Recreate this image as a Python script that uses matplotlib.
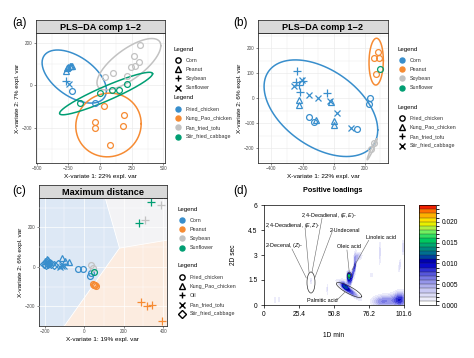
import numpy as np
import matplotlib
matplotlib.use("Agg")
import matplotlib.pyplot as plt
from matplotlib.lines import Line2D
from matplotlib.patches import Ellipse
from matplotlib.colors import ListedColormap, BoundaryNorm

plt.rcParams['font.family'] = ['Liberation Sans', 'DejaVu Sans']
plt.rcParams['mathtext.fontset'] = 'custom'
plt.rcParams['mathtext.rm'] = 'Liberation Sans'
plt.rcParams['mathtext.it'] = 'Liberation Sans:italic'

W, H = 474, 358
BLUE, ORANGE, GRAY, GREEN = '#388ECC', '#F68B33', '#C2C2C2', '#009E73'

# ---------------- panel (a): colour = dish, shape = oil ----------------
a_x = [-269, -258, -250, -238, -225, -217, -269, -243, -224, -40,
       -36, -36, 28, 188, 183, 77,
       317, 271, 304, 248, 279, 214, 106, 41,
       -155, 93, 150, 214, 0]
a_y = [66, 80, 89, 92, 92, 90, 22, 6, -28, -82,
       -172, -200, -98, -140, -189, -282,
       190, 139, 109, 89, 92, 45, 58, 39,
       -82, -20, -20, 6, -36]
a_dish = ['Fried_chicken'] * 10 + ['Kung_Pao_chicken'] * 6 + ['Pan_fried_tofu'] * 8 + ['Stir_fried_cabbage'] * 5
a_oil = ['Peanut'] * 6 + ['Soybean', 'Sunflower', 'Corn', 'Corn'] + ['Corn'] * 19
# ellipses: centre x, centre y, x half-extent, y half-extent, correlation
a_ell_dish = ['Fried_chicken', 'Kung_Pao_chicken', 'Pan_fried_tofu', 'Stir_fried_cabbage']
a_ell_cx = [-203, 67, 228, 48]
a_ell_cy = [42, -186, 100, -38]
a_ell_rx = [254, 258, 252, 367]
a_ell_ry = [125, 150, 121, 100]
a_ell_c = [-0.52, 0.04, 0.72, 0.93]

# ---------------- panel (b): colour = oil, shape = dish ----------------
b_x = [-236, -240, -225, -215, -43, -197,
       -253, -161, -103, -204, 21, 113, -26,
       -225, -225, -112, 0, 0, -17,
       -157, -125, 235, 225, 150,
       283, 257, 289, 274, 296, 257, 240]
b_y = [110, 67, 54, 27, 20, 70,
       51, 14, 0, 74, -60, -120, -13,
       -6, -29, -87, -91, -107, -16,
       -76, -94, 0, -24, -123,
       185, 161, 161, 96, 118, -181, -203]
b_oil = ['Corn'] * 24 + ['Peanut'] * 4 + ['Sunflower'] + ['Soybean'] * 2
b_dish = (['Pan_fried_tofu'] * 6 + ['Stir_fried_cabbage'] * 7 + ['Kung_Pao_chicken'] * 6
          + ['Fried_chicken'] * 5 + ['Fried_chicken'] * 7)
b_ell_oil = ['Corn', 'Peanut', 'Soybean']
b_ell_cx = [-82, 273, 247]
b_ell_cy = [-40, 147, -205]
b_ell_rx = [365, 46, 32]
b_ell_ry = [194, 94, 42]
b_ell_c = [-0.45, 0.05, 0.97]

# ---------------- panel (c): maximum distance ----------------
c_x = [-199, -190, -180, -170, -112, -95, -78, -185,
       -205, -195, -185, -165, -150, -130,
       -120, -110, -100,
       -31, -6, 31, 36,
       36, 45, 50,
       45, 50, 55, 60, 48,
       340, 276, 390, 306, 286, 318, 345, 394]
c_y = [30, 40, 35, 25, 46, 30, 24, 20,
       15, 10, 12, 15, 10, 12,
       0, 2, 5,
       -9, -9, -46, -33,
       9, -6, -26,
       -86, -90, -93, -95, -92,
       329, 221, 313, 237, -178, -199, -195, -275]
c_oil = (['Corn'] * 21 + ['Soybean', 'Soybean', 'Sunflower'] + ['Peanut'] * 5
         + ['Sunflower', 'Sunflower', 'Soybean', 'Soybean'] + ['Peanut'] * 4)
c_dish = (['Kung_Pao_chicken'] * 8 + ['Stir_fried_cabbage'] * 6 + ['Pan_fried_tofu'] * 3
          + ['Fried_chicken'] * 4 + ['Fried_chicken'] * 3 + ['Fried_chicken'] * 5 + ['Oil'] * 8)
# region boundaries (top, junction, bottom, right)
c_bound_x = [104, 179, -107, 424]
c_bound_y = [359, 95, -310, 136]

# ---------------- panel (d): loading peaks ----------------
pk_x = [61.5, 61.5, 62, 64.8, 68, 58, 84, 78, 98.5, 101, 92, 99, 84, 34, 8, 11, 46, 66]
pk_y = [0.9, 1.75, 1.5, 2.0, 2.9, 1.2, 3.1, 1.8, 2.35, 3.45, 0.25, 0.35, 0.2, 1.45, 0.3, 0.35, 0.95, 2.5]
pk_h = [0.0085, 0.0125, 0.007, 0.006, 0.0035, 0.005, 0.0025, 0.0018, 0.003, 0.003,
        0.005, 0.0065, 0.0035, 0.0022, 0.0018, 0.0018, 0.0022, 0.004]
pk_sx = [4.5, 0.8, 1.5, 1.6, 2.0, 1.5, 0.4, 1.0, 0.5, 0.5, 6.0, 3.0, 4.0, 0.3, 0.3, 0.3, 0.25, 0.5]
pk_sy = [0.3, 0.15, 0.3, 0.5, 0.15, 0.2, 0.5, 0.1, 0.25, 0.3, 0.25, 0.3, 0.2, 0.12, 0.12, 0.12, 0.25, 0.5]
pk_rho = [-0.92, 0.0, 0.6, 0.95, 0.3, -0.5, 0.3, 0.0, 0.7, 0.0, 0.0, 0.0, 0.0, 0.0, 0.0, 0.0, 0.0, 0.6]
cb_colors = ['#ffffff', '#ececfa', '#dcdcf7', '#c8c8f3', '#b0b0ee', '#9696ea', '#7878e4', '#5656dc',
             '#3030d2', '#0a0ac8', '#0000b0', '#0040a0', '#006e90', '#00887f', '#00a870', '#00c860',
             '#30e060', '#70f060', '#b0f040', '#e8f000', '#ffe000', '#ffb000', '#ff7000', '#f02000']

dish_col = {'Fried_chicken': BLUE, 'Kung_Pao_chicken': ORANGE, 'Pan_fried_tofu': GRAY, 'Stir_fried_cabbage': GREEN}
oil_col = {'Corn': BLUE, 'Peanut': ORANGE, 'Soybean': GRAY, 'Sunflower': GREEN}
oil_mark = {'Corn': 'o', 'Peanut': '^', 'Soybean': '+', 'Sunflower': 'x'}
dish_mark = {'Fried_chicken': 'o', 'Kung_Pao_chicken': '^', 'Pan_fried_tofu': '+', 'Stir_fried_cabbage': 'x'}
dish_mark_c = {'Fried_chicken': 'o', 'Kung_Pao_chicken': '^', 'Oil': '+', 'Pan_fried_tofu': 'x', 'Stir_fried_cabbage': 'D'}


def box(l, t, r, b):
    return [l / W, 1 - b / H, (r - l) / W, (b - t) / H]


def ellipse_xy(cx, cy, rx, ry, c):
    t = np.linspace(0, 2 * np.pi, 200)
    return cx + rx * np.cos(t), cy + ry * (c * np.cos(t) + np.sqrt(1 - c ** 2) * np.sin(t))


def point(ax, x, y, m, col):
    ax.plot(x, y, linestyle='none', marker=m, ms=4.2 if m != '+' else 5.2, mew=0.9,
            mfc='none', mec=col, zorder=3)


def style_bw(ax, xlim, ylim, xmaj, ymaj, xmin, ymin, gcol='#ebebeb'):
    ax.set_xlim(xlim)
    ax.set_ylim(ylim)
    ax.set_xticks(xmaj)
    ax.set_yticks(ymaj)
    ax.set_xticks(xmin, minor=True)
    ax.set_yticks(ymin, minor=True)
    ax.grid(which='major', color=gcol, lw=0.5)
    ax.grid(which='minor', color=gcol, lw=0.3)
    ax.set_axisbelow(True)
    for s in ax.spines.values():
        s.set_color('#333333')
        s.set_linewidth(0.6)
    ax.tick_params(which='major', labelsize=3.3, length=1.5, width=0.4, pad=1,
                   colors='#333333', labelcolor='#4d4d4d')
    ax.tick_params(which='minor', length=0)


def strip(rect, text):
    s = fig.add_axes(rect, facecolor='#d9d9d9')
    s.set_xticks([])
    s.set_yticks([])
    for sp in s.spines.values():
        sp.set_color('#333333')
        sp.set_linewidth(0.6)
    s.text(0.5, 0.45, text, ha='center', va='center', fontsize=6.6, weight='bold', transform=s.transAxes)


def legend_block(x, y, title, labels, markers, colors, step=9.2):
    fig.text(x / W, 1 - y / H, title, fontsize=4.4, va='center')
    for i, (lab, m, col) in enumerate(zip(labels, markers, colors)):
        yy = y + 11 + i * step
        if m == 'dot':
            fig.add_artist(Line2D([(x + 5) / W], [1 - yy / H], marker='o', ms=3.6, mfc=col, mec=col,
                                  transform=fig.transFigure))
        else:
            fig.add_artist(Line2D([(x + 5) / W], [1 - yy / H], marker=m, ms=3.8 if m != '+' else 5,
                                  mew=1.0, mfc='none', mec='black', transform=fig.transFigure))
        fig.text((x + 13) / W, 1 - yy / H, lab, fontsize=3.9, va='center', color='#333333')


fig = plt.figure(figsize=(W / 100, H / 100), dpi=100)

# ---- (a)
ax = fig.add_axes(box(36, 33, 165, 163))
style_bw(ax, (-505, 513), (-365, 247), [-500, -250, 0, 250, 500], [-200, 0, 200],
         [-375, -125, 125, 375], [-300, -100, 100])
for i in range(len(a_ell_cx)):
    ex, ey = ellipse_xy(a_ell_cx[i], a_ell_cy[i], a_ell_rx[i], a_ell_ry[i], a_ell_c[i])
    ax.plot(ex, ey, color=dish_col[a_ell_dish[i]], lw=1.1, zorder=2)
for x, y, d, o in zip(a_x, a_y, a_dish, a_oil):
    point(ax, x, y, oil_mark[o], dish_col[d])
ax.set_xlabel('X-variate 1: 22% expl. var', fontsize=4.6, labelpad=1.5)
ax.set_ylabel('X-variate 2: 7% expl. var', fontsize=4.6, labelpad=1.5)
strip(box(36, 20, 165, 33), 'PLS\u2212DA comp 1\u22122')
legend_block(173, 49, 'Legend', ['Corn', 'Peanut', 'Soybean', 'Sunflower'], ['o', '^', '+', 'x'], ['k'] * 4)
legend_block(173, 98, 'Legend', ['Fried_chicken', 'Kung_Pao_chicken', 'Pan_fried_tofu', 'Stir_fried_cabbage'],
             ['dot'] * 4, [BLUE, ORANGE, GRAY, GREEN])

# ---- (b)
ax = fig.add_axes(box(258, 33, 388, 163))
style_bw(ax, (-486, 349), (-260, 262), [-400, -200, 0, 200], [-200, -100, 0, 100, 200],
         [-300, -100, 100, 300], [-250, -150, -50, 50, 150, 250])
for i in range(len(b_ell_cx)):
    ex, ey = ellipse_xy(b_ell_cx[i], b_ell_cy[i], b_ell_rx[i], b_ell_ry[i], b_ell_c[i])
    ax.plot(ex, ey, color=oil_col[b_ell_oil[i]], lw=1.1, zorder=2)
for x, y, d, o in zip(b_x, b_y, b_dish, b_oil):
    point(ax, x, y, dish_mark[d], oil_col[o])
ax.set_xlabel('X-variate 1: 22% expl. var', fontsize=4.6, labelpad=1.5)
ax.set_ylabel('X-variate 2: 6% expl. var', fontsize=4.6, labelpad=1.5)
strip(box(258, 20, 388, 33), 'PLS\u2212DA comp 1\u22122')
legend_block(397, 49, 'Legend', ['Corn', 'Peanut', 'Soybean', 'Sunflower'], ['dot'] * 4,
             [BLUE, ORANGE, GRAY, GREEN])
legend_block(397, 107, 'Legend', ['Fried_chicken', 'Kung_Pao_chicken', 'Pan_fried_tofu', 'Stir_fried_cabbage'],
             ['o', '^', '+', 'x'], ['k'] * 4)

# ---- (c)
ax = fig.add_axes(box(39, 198, 167, 326))
style_bw(ax, (-228, 419), (-300, 349), [-200, 0, 200, 400], [-200, 0, 200],
         [-100, 100, 300], [-100, 100, 300], gcol='#ffffff')
bx, by = c_bound_x, c_bound_y
ax.fill([-300, bx[0], bx[1], bx[2], -300], [400, by[0], by[1], by[2], -400], color='#dde8f5', lw=0, zorder=0)
ax.fill([bx[0], 500, 500, bx[3], bx[1]], [by[0], 400, by[3], by[3], by[1]], color='#f3f3f5', lw=0, zorder=0)
ax.fill([bx[1], bx[3], 500, 500, bx[2]], [by[1], by[3], by[3], -400, by[2]], color='#fcece0', lw=0, zorder=0)
ax.plot([bx[0], bx[1], bx[2]], [by[0], by[1], by[2]], color='white', lw=0.6, zorder=1)
ax.plot([bx[1], bx[3]], [by[1], by[3]], color='white', lw=0.6, zorder=1)
ax.set_axisbelow(False)
for gl in ax.get_xgridlines() + ax.get_ygridlines():
    gl.set_zorder(0.5)
for x, y, d, o in zip(c_x, c_y, c_dish, c_oil):
    point(ax, x, y, dish_mark_c[d], oil_col[o])
ax.set_xlabel('X-variate 1: 19% expl. var', fontsize=4.6, labelpad=1.5)
ax.set_ylabel('X-variate 2: 6% expl. var', fontsize=4.6, labelpad=1.5)
strip(box(39, 185, 167, 198), 'Maximum distance')
legend_block(177, 209, 'Legend', ['Corn', 'Peanut', 'Soybean', 'Sunflower'], ['dot'] * 4,
             [BLUE, ORANGE, GRAY, GREEN])
legend_block(177, 266, 'Legend', ['Fried_chicken', 'Kung_Pao_chicken', 'Oil', 'Pan_fried_tofu', 'Stir_fried_cabbage'],
             ['o', '^', '+', 'x', 'D'], ['k'] * 5)

# ---- (d)
ax = fig.add_axes(box(264, 205, 404, 305))
gx, gy = np.meshgrid(np.linspace(0, 101.6, 600), np.linspace(0, 6, 360))
z = np.zeros_like(gx)
for x0, y0, h, sx, sy, r in zip(pk_x, pk_y, pk_h, pk_sx, pk_sy, pk_rho):
    dx = (gx - x0) / sx
    dy = (gy - y0) / sy
    z += h * np.exp(-(dx ** 2 - 2 * r * dx * dy + dy ** 2) / (2 * (1 - r ** 2)))
levels = np.arange(0, 0.0245, 0.001)
cmap = ListedColormap(cb_colors)
norm = BoundaryNorm(levels, cmap.N)
cf = ax.contourf(gx, gy, z, levels=levels, cmap=cmap, norm=norm)
ax.set_xlim(0, 101.6)
ax.set_ylim(0, 6)
ax.set_xticks([0, 25.4, 50.8, 76.2, 101.6])
ax.set_xticklabels(['0', '25.4', '50.8', '76.2', '101.6'])
ax.set_yticks([0, 1.5, 3, 4.5, 6])
ax.set_yticklabels(['0', '1.5', '3', '4.5', '6'])
ax.tick_params(labelsize=4.8, length=2.5, width=0.5, pad=2)
for s in ax.spines.values():
    s.set_linewidth(0.5)
ax.set_xlabel('1D min', fontsize=4.8, labelpad=10)
ax.set_ylabel('2D sec', fontsize=4.8, labelpad=8)

ax.add_patch(Ellipse((34.1, 1.35), 5.8, 1.26, fill=False, lw=0.5, ec='#333333'))
ex, ey = ellipse_xy(61.7, 0.9, 9.2, 0.45, -0.85)
ax.plot(ex, ey, color='#333333', lw=0.5)
ax.add_patch(Ellipse((62.0, 1.8), 3.0, 0.3, fill=False, lw=0.5, ec='#333333'))
labels_d = ['2-Decenal, ($\\it{Z}$)-', '2,4-Decadienal, ($\\it{E,Z}$)-', '2,4-Decadienal, ($\\it{E,E}$)-',
            '2-Undecenal', 'Oleic acid', 'Linoleic acid', 'Palmitic acid']
lab_x = [0.5, 0.5, 26.5, 48, 53, 74, 31]
lab_y = [3.55, 4.8, 5.35, 4.5, 3.48, 4.08, 0.25]
line_x0 = [20.3, 29.8, 42.1, 49.3, 60.2, 76, 53]
line_y0 = [3.36, 4.62, 5.2, 4.36, 3.3, 3.88, 0.3]
line_x1 = [30.7, 32.7, 34.8, 36.8, 61.9, 63.9, 58.5]
line_y1 = [1.62, 1.95, 1.95, 1.62, 1.95, 2.1, 0.75]
for t, x, y in zip(labels_d, lab_x, lab_y):
    ax.text(x, y, t, fontsize=3.9, va='center', ha='left')
for x0, y0, x1, y1 in zip(line_x0, line_y0, line_x1, line_y1):
    ax.plot([x0, x1], [y0, y1], color='#666666', lw=0.4)

cax = fig.add_axes(box(419, 205, 436, 305))
cb = fig.colorbar(cf, cax=cax, drawedges=True, ticks=[0, 0.005, 0.010, 0.015, 0.020])
cb.ax.set_yticklabels(['0.000', '0.005', '0.010', '0.015', '0.020'])
cb.ax.tick_params(labelsize=4.8, length=2.5, width=0.5, pad=2)
cb.outline.set_linewidth(0.5)
cb.dividers.set_linewidth(0.25)
cb.dividers.set_color('#222222')
fig.text(333 / W, 1 - 190 / H, 'Positive loadings', ha='center', va='center', fontsize=5.2, weight='bold')

for lab, x, y in [('(a)', 12, 23), ('(b)', 233, 23), ('(c)', 12, 191), ('(d)', 233, 191)]:
    fig.text(x / W, 1 - y / H, lab, fontsize=8.5, va='center')

fig.savefig('out.png', dpi=100)
